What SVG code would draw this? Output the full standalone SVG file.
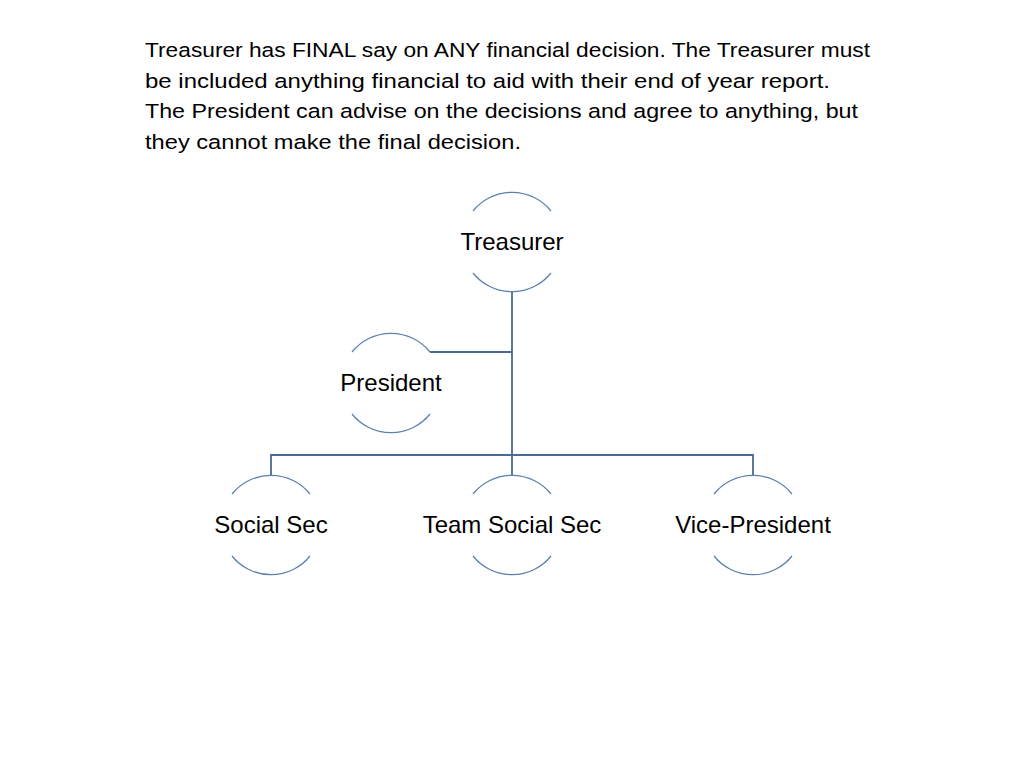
<svg xmlns="http://www.w3.org/2000/svg" width="1024" height="768" viewBox="0 0 1024 768">
<style>
.t{font-family:"Liberation Sans","DejaVu Sans",sans-serif;fill:#000}
.p{font-size:20.5px}
.n{font-size:24px;text-anchor:middle}
.arc{fill:none;stroke:#5b7fae;stroke-width:1.2}
.c{fill:none;stroke:#4a6a90;stroke-width:1.8}
</style>
<rect width="1024" height="768" fill="#fff"/>
<g class="t p">
<text x="145" y="57" textLength="725" lengthAdjust="spacingAndGlyphs">Treasurer has FINAL say on ANY financial decision. The Treasurer must</text>
<text x="145" y="88" textLength="685" lengthAdjust="spacingAndGlyphs">be included anything financial to aid with their end of year report.</text>
<text x="145" y="118" textLength="713" lengthAdjust="spacingAndGlyphs">The President can advise on the decisions and agree to anything, but</text>
<text x="145" y="149" textLength="376" lengthAdjust="spacingAndGlyphs">they cannot make the final decision.</text>
</g>
<g id="connectors" class="c">
<path d="M512 292 V475"/>
<path d="M430 352 H512"/>
<path d="M271 475 V455 H753 V475"/>
</g>
<g id="treasurer">
<path class="arc" d="M473 211 A50 50 0 0 1 551 211 M473 273 A50 50 0 0 0 551 273"/>
<text class="t n" x="512" y="250">Treasurer</text>
</g>
<g id="president">
<path class="arc" d="M352 352 A50 50 0 0 1 430 352 M352 414 A50 50 0 0 0 430 414"/>
<text class="t n" x="391" y="391">President</text>
</g>
<g id="social-sec">
<path class="arc" d="M232 494 A50 50 0 0 1 310 494 M232 556 A50 50 0 0 0 310 556"/>
<text class="t n" x="271" y="533">Social Sec</text>
</g>
<g id="team-social-sec">
<path class="arc" d="M473 494 A50 50 0 0 1 551 494 M473 556 A50 50 0 0 0 551 556"/>
<text class="t n" x="512" y="533">Team Social Sec</text>
</g>
<g id="vice-president">
<path class="arc" d="M714 494 A50 50 0 0 1 792 494 M714 556 A50 50 0 0 0 792 556"/>
<text class="t n" x="753" y="533">Vice-President</text>
</g>
</svg>
